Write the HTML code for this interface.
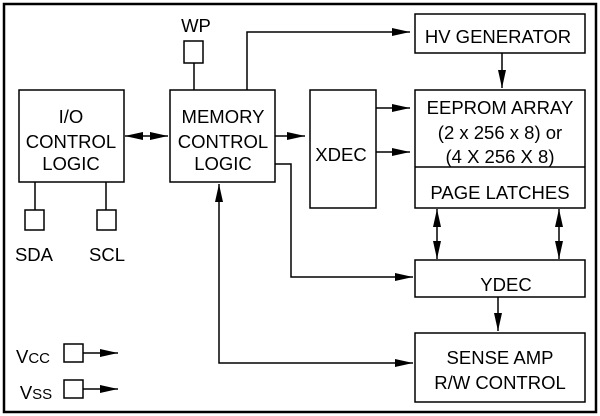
<!DOCTYPE html>
<html><head><style>body{margin:0;background:#fff}svg{display:block}text{font-family:"Liberation Sans",sans-serif;font-size:18.5px;fill:#000;text-anchor:middle}</style></head>
<body>
<svg width="600" height="416" viewBox="0 0 600 416">
<defs>
<marker id="b" markerWidth="18" markerHeight="8" refX="18" refY="4" orient="auto-start-reverse" markerUnits="userSpaceOnUse"><path d="M0,0L18,4L0,8z" fill="#000"/></marker></defs>
<g fill="none" stroke="#000" stroke-width="1.5">
<rect x="4" y="4" width="592" height="408" stroke-width="2.5"/>
<rect x="19" y="90" width="105" height="92"/>
<rect x="170" y="90" width="105" height="92"/>
<rect x="184" y="41" width="19" height="22"/>
<line x1="194" y1="63" x2="194" y2="90"/>
<rect x="415" y="14" width="170" height="39"/>
<rect x="310" y="90" width="66" height="118"/>
<rect x="415" y="90" width="170" height="118"/>
<line x1="415" y1="167" x2="585" y2="167"/>
<rect x="415" y="260" width="170" height="37"/>
<rect x="415" y="333" width="170" height="69"/>
<polyline points="247,90 247,32 410,32" marker-end="url(#b)"/>
<line x1="502" y1="53" x2="502" y2="88" marker-end="url(#b)"/>
<line x1="376" y1="108" x2="410" y2="108" marker-end="url(#b)"/>
<line x1="376" y1="152" x2="410" y2="152" marker-end="url(#b)"/>
<line x1="275" y1="136" x2="305" y2="136" marker-end="url(#b)"/>
<line x1="125" y1="136" x2="168" y2="136" marker-start="url(#b)" marker-end="url(#b)"/>
<polyline points="275,164 291,164 291,277 413,277" marker-end="url(#b)"/>
<line x1="437" y1="209" x2="437" y2="259" marker-start="url(#b)" marker-end="url(#b)"/>
<line x1="559" y1="209" x2="559" y2="259" marker-start="url(#b)" marker-end="url(#b)"/>
<line x1="498" y1="297" x2="498" y2="331" marker-end="url(#b)"/>
<polyline points="219,184 219,363 413,363" marker-start="url(#b)" marker-end="url(#b)"/>
<line x1="35" y1="182" x2="35" y2="210"/>
<line x1="106" y1="182" x2="106" y2="210"/>
<rect x="25" y="210" width="19" height="20"/>
<rect x="97" y="210" width="19" height="20"/>
<rect x="64" y="344" width="19" height="18"/>
<rect x="64" y="380" width="19" height="18"/>
<line x1="83" y1="353" x2="118" y2="353" marker-end="url(#b)"/>
<line x1="83" y1="389" x2="118" y2="389" marker-end="url(#b)"/>
</g>
<text x="196" y="32">WP</text>
<text x="71" y="123">I/O</text><text x="71" y="148">CONTROL</text><text x="71" y="170">LOGIC</text>
<text x="223" y="123">MEMORY</text><text x="223" y="148">CONTROL</text><text x="223" y="170">LOGIC</text>
<text x="498" y="43">HV GENERATOR</text>
<text x="341" y="161">XDEC</text>
<text x="500" y="114">EEPROM ARRAY</text><text x="500" y="139">(2 x 256 x 8) or</text><text x="500" y="163">(4 X 256 X 8)</text>
<text x="500" y="199">PAGE LATCHES</text>
<text x="506" y="291">YDEC</text>
<text x="500" y="364">SENSE AMP</text><text x="500" y="389">R/W CONTROL</text>
<text x="34" y="261">SDA</text><text x="107" y="261">SCL</text>
<text x="33" y="363">V<tspan font-size="15">CC</tspan></text>
<text x="36" y="399">V<tspan font-size="15">SS</tspan></text>
</svg>
</body></html>
